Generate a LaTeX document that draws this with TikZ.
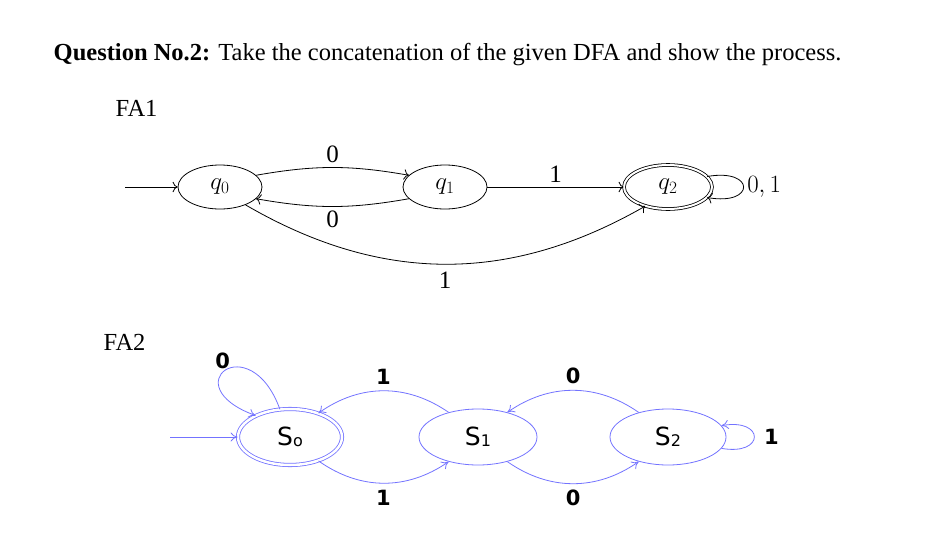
\documentclass[tikz,border=0pt]{standalone}
\usepackage{fontspec}
\setmainfont{Liberation Serif}
\newfontfamily\dejavu{DejaVu Sans}
\usetikzlibrary{arrows.meta,shapes.geometric}
\begin{document}
\begin{tikzpicture}[x=1pt,y=-1pt,line width=0.8pt,
  st/.style={draw,ellipse,inner sep=0pt,minimum width=84pt,minimum height=44pt},
  acc/.style={st,double,double distance=2pt},
  bl/.style={draw=blue!55,ellipse,inner sep=0pt,minimum height=56pt},
  blacc/.style={bl,double=white,double distance=2.5pt},
  tr/.style={-{To[length=5pt]}},
  btr/.style={draw=blue!55,-{To[length=7pt,width=9pt]}},
  lbl/.style={font=\fontsize{25}{28}\selectfont},
  blbl/.style={font=\dejavu\bfseries\fontsize{21}{24}\selectfont},
  qt/.style={font=\fontsize{27}{30}\selectfont},
  stt/.style={font=\dejavu\fontsize{25}{28}\selectfont}]
\useasboundingbox (0,0) rectangle (935,554);
\node[anchor=base west,font=\fontsize{24.5}{28}\selectfont] (title) at (50,60)
  {\textbf{Question No.2:} Take the concatenation of the given DFA and show the process.};
\node[anchor=base west,font=\fontsize{24.5}{28}\selectfont] (fa1) at (112,116) {FA1};
\node[anchor=base west,font=\fontsize{24.5}{28}\selectfont] (fa2) at (100,350) {FA2};
% FA1
\node[st,qt] (q0) at (220,187) {$q_0$};
\node[st,qt] (q1) at (445,187) {$q_1$};
\node[acc,qt,minimum width=88pt] (q2) at (668,187) {$q_2$};
\coordinate (s1) at (125,187);
\draw[tr] (s1) -- (q0);
\draw[tr] (q0.18) to[bend left=10] node[lbl,above=1pt] {0} (q1.162);
\draw[tr] (q1.198) to[bend left=10] node[lbl,below=1pt] {0} (q0.-18);
\draw[tr] (q1) -- node[lbl,above=1pt] {1} (q2);
\draw[tr] (q0.-35) to[bend right=30] node[lbl,below=4pt] {1} (q2.-140);
\draw[tr] (q2.15) to[out=10,in=-10,looseness=6] node[lbl,right] {$0,1$} (q2.-15);
% FA2
\node[blacc,stt,minimum width=104pt] (s0) at (290,437) {S\raisebox{-1pt}{\fontsize{16}{18}\selectfont o}};
\node[bl,stt,minimum width=118pt] (ss1) at (478,437) {S\raisebox{-1pt}{\fontsize{16}{18}\selectfont 1}};
\node[bl,stt,minimum width=116pt] (ss2) at (668,437) {S\raisebox{-1pt}{\fontsize{16}{18}\selectfont 2}};
\coordinate (s2) at (170,437);
\draw[btr] (s2) -- (s0);
\draw[btr] (ss1.140) to[bend right=35] node[blbl,above=3pt] {1} (s0.40);
\draw[btr] (s0.-40) to[bend right=35] node[blbl,below=3pt] {1} (ss1.-140);
\draw[btr] (ss2.140) to[bend right=35] node[blbl,above=3pt] {0} (ss1.40);
\draw[btr] (ss1.-40) to[bend right=35] node[blbl,below=3pt] {0} (ss2.-140);
\draw[btr] (s0.110) to[out=110,in=160,looseness=9] node[blbl,pos=0.45,above left=-4pt] {0} (s0.148);
\draw[btr] (ss2.-12) to[out=-10,in=10,looseness=5] node[blbl,right=6pt] {1} (ss2.12);
\end{tikzpicture}
\end{document}
